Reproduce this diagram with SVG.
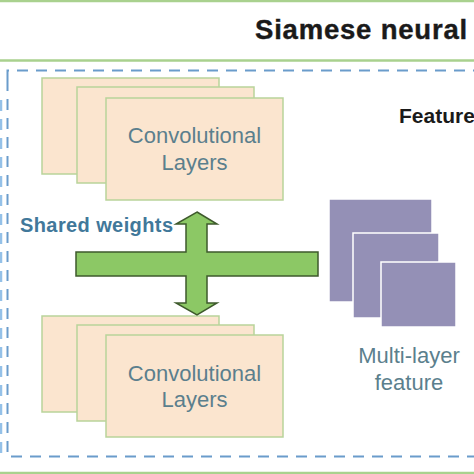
<svg xmlns="http://www.w3.org/2000/svg" width="474" height="474" viewBox="0 0 474 474">
<style>
.conv{fill:#fbe5cf;stroke:#b9d39a;stroke-width:1.5}
.convtxt{font-family:"Liberation Sans",Arial,sans-serif;font-size:22px;fill:#5b7f8d;text-anchor:middle}
.sq{fill:#9490b6;stroke:#ffffff;stroke-width:1.5}
.green{stroke:#a9d18e;stroke-width:2.5;fill:none}
.dash{stroke:#6a9ccb;stroke-width:2;fill:none;stroke-dasharray:11 8}
</style>
<rect width="474" height="474" fill="#ffffff"/>
<g id="frame">
<line class="green" x1="0" y1="1" x2="474" y2="1"/>
<line class="green" x1="0" y1="60.5" x2="474" y2="60.5"/>
<line class="green" x1="0" y1="473" x2="474" y2="473"/>
<line x1="1" y1="100" x2="1" y2="456" stroke="#95c1e8" stroke-width="2.5" stroke-dasharray="11 8"/>
<path class="dash" d="M7.5 80 V70.5 H480 M7.5 80 V456.5 H480"/>
</g>
<g id="title">
<text x="255" y="38.5" font-family="Liberation Sans,Arial,sans-serif" font-size="27.5" font-weight="bold" letter-spacing="0.8" fill="#1a1a1a" stroke="#1a1a1a" stroke-width="0.4">Siamese neural network</text>
</g>
<g id="features-label">
<text x="399" y="122.5" font-family="Liberation Sans,Arial,sans-serif" font-size="21" font-weight="bold" fill="#1a1a1a">Features</text>
</g>
<g id="conv-top">
<rect class="conv" x="42" y="78" width="177" height="96"/>
<rect class="conv" x="77" y="87" width="177" height="96"/>
<rect class="conv" x="106" y="98" width="177" height="102"/>
<text class="convtxt" x="194.5" y="143">Convolutional</text>
<text class="convtxt" x="194.5" y="170">Layers</text>
</g>
<g id="conv-bottom">
<rect class="conv" x="42" y="316" width="177" height="96"/>
<rect class="conv" x="77" y="325" width="177" height="96"/>
<rect class="conv" x="106" y="335" width="177" height="102"/>
<text class="convtxt" x="194.5" y="381">Convolutional</text>
<text class="convtxt" x="194.5" y="407">Layers</text>
</g>
<g id="connectors">
<path d="M197 212 L217 224 L207 224 L207 252 L318 252 L318 276 L207 276 L207 303 L217 303 L197 315 L176 303 L186 303 L186 276 L76 276 L76 252 L186 252 L186 224 L176 224 Z" fill="#8cc865" stroke="#3e5a2c" stroke-width="1.5" stroke-linejoin="miter"/>
</g>
<g id="shared-weights">
<text x="20" y="232" font-family="Liberation Sans,Arial,sans-serif" font-size="20" font-weight="bold" letter-spacing="0.4" fill="#41789a">Shared weights</text>
</g>
<g id="multi-layer-feature">
<rect class="sq" x="329" y="199" width="103" height="103"/>
<rect class="sq" x="353" y="233" width="86" height="85"/>
<rect class="sq" x="381" y="262" width="75" height="65"/>
<text class="convtxt" x="409" y="363">Multi-layer</text>
<text class="convtxt" x="409" y="390">feature</text>
</g>
</svg>
